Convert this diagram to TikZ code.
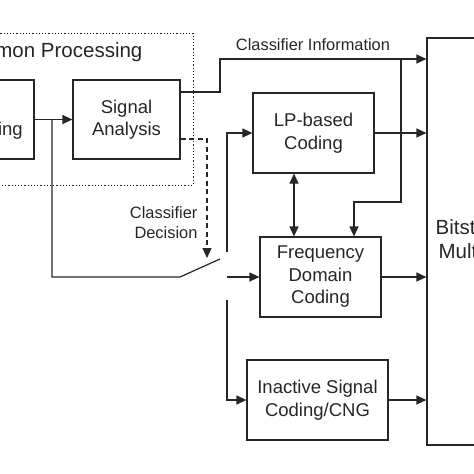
\documentclass[tikz,border=0pt]{standalone}
\usepackage{fontspec}
\setmainfont{Liberation Sans}
\usetikzlibrary{arrows.meta}

\newcommand\blockfont{\fontsize{18.5}{22.5}\selectfont}
\newcommand\titlefont{\fontsize{20.5}{24}\selectfont}
\newcommand\labelfont{\fontsize{16.4}{20}\selectfont}

\tikzset{
  block/.style={draw, align=center, inner sep=0pt, font=\blockfont},
  commonbox/.style={draw, line width=0.9pt, dash pattern=on 1.2pt off 2pt},
  decision/.style={dash pattern=on 5pt off 3.5pt}
}

\begin{document}
\begin{tikzpicture}[x=1pt,y=-1pt,line width=1.2pt,color=black!85,
    >={Triangle[length=10pt,width=9pt]}]
        \useasboundingbox (0,0) rectangle (474,474);
        \clip (0,0) rectangle (474,474);

        \node[commonbox, minimum width=303pt, minimum height=152pt] (CommonProc) at (41.5,109) {};
        \node[anchor=east, inner sep=0pt, font=\titlefont] (CommonTitle) at (143,52) {Common Processing};

        \node[block, minimum width=112pt, minimum height=79pt] (PreProc) at (-22,119.5) {Pre-\\processing};
        \node[block, minimum width=107pt, minimum height=79pt] (SigAnalysis) at (126.5,119.5) {Signal\\Analysis};
        \node[block, minimum width=121pt, minimum height=80pt] (LPCoding) at (313.5,133) {LP-based\\Coding};
        \node[block, minimum width=121pt, minimum height=80pt] (FDCoding) at (320.5,277) {Frequency\\Domain\\Coding};
        \node[block, minimum width=141pt, minimum height=80pt] (InactCoding) at (317.5,400) {Inactive Signal\\Coding/CNG};
        \node[block, minimum width=104pt, minimum height=407pt, font=\titlefont] (BitMux) at (479,241.5) {Bitstream\\Multiplex};

        \node[inner sep=0pt, font=\labelfont] (InfoLabel) at (313,45) {Classifier Information};
        \node[anchor=east, align=right, inner sep=0pt, font=\labelfont] (DecLabel) at (198,223) {Classifier\\Decision};

        \coordinate (SplitPt) at (52,119.5);
        \coordinate (SwPivot) at (180,277);
        \coordinate (SwBlade) at (220,259);
        \coordinate (SwTop) at (227,252);
        \coordinate (SwMid) at (227,277);
        \coordinate (SwLow) at (227,300);
        \coordinate (InfoOut) at (180,92);
        \coordinate (InfoStep) at (220,59);
        \coordinate (InfoBranch) at (401,59);
        \coordinate (InfoDrop) at (354,202);
        \coordinate (DecStart) at (180,139);
        \coordinate (DecEnd) at (207,258);

        % input and switch
        \draw[->] (PreProc.east) to (SigAnalysis.west);
        \draw (SplitPt) |- (SwPivot) -- (SwBlade);
        \draw[->] (SwTop) |- (LPCoding.west);
        \draw[->] (SwMid) to (FDCoding.west);
        \draw[->] (SwLow) |- (InactCoding.west);

        % classifier
        \draw[->] (SigAnalysis.east |- InfoOut) -| (InfoStep) -- (InfoStep -| BitMux.west);
        \draw[->] (InfoBranch) |- (InfoDrop) -- (InfoDrop |- FDCoding.north);
        \draw[->,decision] (SigAnalysis.east |- DecStart) -| (DecEnd);
        \draw[<->] (LPCoding.south -| 294,0) to (FDCoding.north -| 294,0);

        % outputs
        \draw[->] (LPCoding.east) to (LPCoding.east -| BitMux.west);
        \draw[->] (FDCoding.east) to (FDCoding.east -| BitMux.west);
        \draw[->] (InactCoding.east) to (InactCoding.east -| BitMux.west);
    \end{tikzpicture}
\end{document}
